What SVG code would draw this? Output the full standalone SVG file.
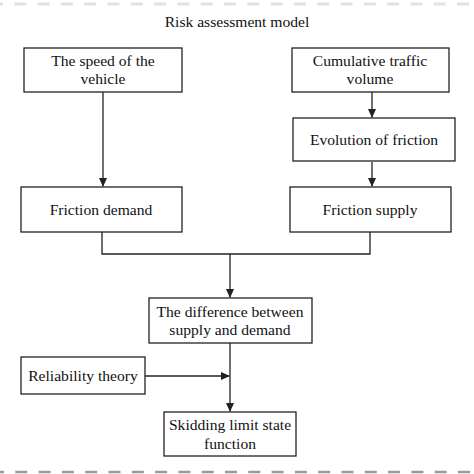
<svg xmlns="http://www.w3.org/2000/svg" width="474" height="474" viewBox="0 0 474 474">
<style>
.b{fill:#fff;stroke:#222;stroke-width:1.3}
.t{font-family:"Liberation Serif",serif;font-size:15.6px;fill:#111;text-anchor:middle}
.c{fill:none;stroke:#222;stroke-width:1.3}
</style>
<defs>
<marker id="ah" markerWidth="10" markerHeight="12" refX="8" refY="5" orient="auto" markerUnits="userSpaceOnUse">
<path d="M0,1 L9,5 L0,9 Z" fill="#222"/>
</marker>
</defs>
<rect width="474" height="474" fill="#fff"/>
<line x1="-9" y1="4" x2="474" y2="4" stroke="#e2e2e2" stroke-width="3" stroke-dasharray="12 11.3"/>
<line x1="-8" y1="472" x2="474" y2="472" stroke="#9a9a9a" stroke-width="2.5" stroke-dasharray="12 11.3"/>
<text class="t" x="237" y="27">Risk assessment model</text>
<g id="connectors">
<line class="c" x1="103" y1="92" x2="103" y2="186" marker-end="url(#ah)"/>
<line class="c" x1="372" y1="92" x2="372" y2="117" marker-end="url(#ah)"/>
<line class="c" x1="372" y1="162" x2="372" y2="186" marker-end="url(#ah)"/>
<polyline class="c" points="102,232 102,254 370,254 370,232"/>
<line class="c" x1="230" y1="254" x2="230" y2="297" marker-end="url(#ah)"/>
<line class="c" x1="230" y1="343" x2="230" y2="411" marker-end="url(#ah)"/>
<line class="c" x1="145" y1="376" x2="229" y2="376" marker-end="url(#ah)"/>
</g>
<g id="speed"><rect class="b" x="24" y="48" width="158" height="44"/><text class="t" x="103" y="66">The speed of the</text><text class="t" x="103" y="84">vehicle</text></g>
<g id="cumulative"><rect class="b" x="292" y="48" width="157" height="44"/><text class="t" x="370" y="66">Cumulative traffic</text><text class="t" x="370" y="84">volume</text></g>
<g id="evolution"><rect class="b" x="293" y="118" width="162" height="43"/><text class="t" x="374" y="145">Evolution of friction</text></g>
<g id="demand"><rect class="b" x="21" y="187" width="161" height="45"/><text class="t" x="101" y="215">Friction demand</text></g>
<g id="supply"><rect class="b" x="290" y="187" width="161" height="45"/><text class="t" x="370" y="215">Friction supply</text></g>
<g id="difference"><rect class="b" x="149" y="298" width="163" height="45"/><text class="t" x="230" y="317">The difference between</text><text class="t" x="230" y="335">supply and demand</text></g>
<g id="reliability"><rect class="b" x="21" y="357" width="124" height="37"/><text class="t" x="83" y="381">Reliability theory</text></g>
<g id="skidding"><rect class="b" x="164" y="412" width="132" height="44"/><text class="t" x="230" y="430">Skidding limit state</text><text class="t" x="230" y="449">function</text></g>
</svg>
